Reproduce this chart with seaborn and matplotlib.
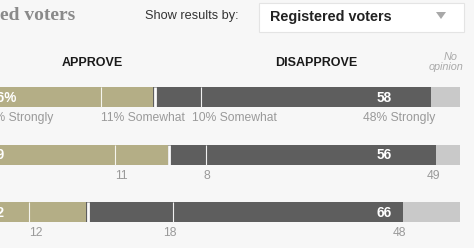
import matplotlib
matplotlib.use("Agg")
import matplotlib.pyplot as plt
import matplotlib.patches as mpatches
import seaborn as sns
import pandas as pd

# ---- data ----
questions = ["Question 1", "Question 2", "Question 3"]
approve_total = [36, 39, 22]
approve_strongly = [25, 28, 10]
approve_somewhat = [11, 11, 12]
disapprove_total = [58, 56, 66]
disapprove_somewhat = [10, 8, 18]
disapprove_strongly = [48, 49, 48]
no_opinion = [6, 5, 12]

approve_total_labels = ["36%", "39", "22"]
approve_strongly_labels = ["25% Strongly", "28", "10"]
approve_somewhat_labels = ["11% Somewhat", "11", "12"]
disapprove_somewhat_labels = ["10% Somewhat", "8", "18"]
disapprove_strongly_labels = ["48% Strongly", "49", "48"]
disapprove_total_labels = ["58", "56", "66"]

# ---- styling ----
BG = "#f7f7f7"
KHAKI = "#b4ae86"
DARK = "#5e5e5e"
LIGHT = "#c9c9c9"
SUB = "#9a9a9a"

W, H = 474, 248
sns.set_theme(style="white")
plt.rcParams["font.family"] = ["Liberation Sans", "DejaVu Sans"]

fig = plt.figure(figsize=(W / 100, H / 100), dpi=100, facecolor=BG)
ax = fig.add_axes([0, 0, 1, 1])
ax.set_facecolor(BG)

df = pd.DataFrame({
    "question": questions,
    "approve_total": approve_total,
    "approve_strongly": approve_strongly,
    "disapprove_total": disapprove_total,
    "disapprove_somewhat": disapprove_somewhat,
    "no_opinion": no_opinion,
})
df["c_strong"] = df["approve_strongly"]
df["c_approve"] = df["approve_total"]
df["c_dsome"] = df["approve_total"] + df["disapprove_somewhat"]
df["c_dis"] = df["approve_total"] + df["disapprove_total"]
df["c_all"] = df["c_dis"] + df["no_opinion"]

bw = 20 / 57.5
layers = [("c_all", LIGHT), ("c_dis", DARK), ("c_approve", KHAKI)]
for col, colr in layers:
    sns.barplot(data=df, x=col, y="question", orient="h", color=colr,
                saturation=1, width=bw, ax=ax, edgecolor="none", linewidth=0)

# dividers
for i in range(len(questions)):
    y0, y1 = i - bw / 2, i + bw / 2
    ax.vlines(df["c_strong"][i], y0, y1, colors="#f5f5ee", linewidth=0.8)
    ax.vlines(df["c_dsome"][i], y0, y1, colors="#f0f0f0", linewidth=0.8)
    ax.vlines(df["c_approve"][i] + 0.3, y0, y1, colors="#fafafa", linewidth=2.0)

ppx = 4.79  # px per percent
ax.set_xlim(19 / ppx, (W + 19) / ppx)
ax.set_ylim((H - 97) / 57.5, -97 / 57.5)
ax.set_xlabel("")
ax.set_ylabel("")
ax.set_xticks([])
ax.set_yticks([])
for s in ax.spines.values():
    s.set_visible(False)

ly = 21 / 57.5
FS = 8.7
for i in range(len(questions)):
    # totals inside bars
    ax.text(1.8, i + 0.01, approve_total_labels[i], color="white", fontsize=9.8,
            fontweight="bold", ha="left", va="center")
    ax.text(85.8, i + 0.01, disapprove_total_labels[i], color="white", fontsize=9.8,
            fontweight="bold", ha="right", va="center")
    # sub labels
    ax.text(0, i + ly, approve_strongly_labels[i], color=SUB, fontsize=FS,
            ha="left", va="center")
    ax.text(df["c_strong"][i], i + ly, approve_somewhat_labels[i], color=SUB,
            fontsize=FS, ha="left", va="center")
    if i == 0:
        ax.text(df["c_dsome"][i] - 1.9, i + ly, disapprove_somewhat_labels[i],
                color=SUB, fontsize=FS, ha="left", va="center")
    else:
        ax.text(df["c_dsome"][i] + 0.85, i + ly, disapprove_somewhat_labels[i],
                color=SUB, fontsize=FS, ha="right", va="center")
    ax.text(df["c_dis"][i] + 0.85, i + ly, disapprove_strongly_labels[i],
            color=SUB, fontsize=FS, ha="right", va="center")


def fx(px):
    return px / W


def fy(py):
    return 1 - py / H


# header
fig.text(fx(0), fy(16), "ed voters", color="#8a8a8a", fontsize=14,
         fontweight="bold", family=["Liberation Serif", "DejaVu Serif"],
         ha="left", va="center")
fig.text(fx(145), fy(16), "Show results by:", color="#333333", fontsize=9.2,
         ha="left", va="center")
box = mpatches.Rectangle((fx(259), fy(32)), fx(464) - fx(259), fy(3) - fy(32),
                         transform=fig.transFigure, facecolor="white",
                         edgecolor="#e4e4e4", linewidth=0.8)
fig.add_artist(box)
fig.text(fx(270), fy(16.5), "Registered voters", color="#222222", fontsize=10.4,
         fontweight="bold", ha="left", va="center")
tri = mpatches.Polygon([(fx(436), fy(12)), (fx(446), fy(12)), (fx(441), fy(19))],
                       closed=True, transform=fig.transFigure,
                       facecolor="#a8a8a8", edgecolor="none")
fig.add_artist(tri)

fig.text(fx(92), fy(63), "APPROVE", color="#1a1a1a", fontsize=9.0,
         fontweight="bold", ha="center", va="center")
fig.text(fx(316.5), fy(63), "DISAPPROVE", color="#1a1a1a", fontsize=9.0,
         fontweight="bold", ha="center", va="center")
fig.text(fx(451), fy(56.5), "No", color="#aaaaaa", fontsize=7.8,
         style="italic", ha="center", va="center")
fig.text(fx(446), fy(67), "opinion", color="#aaaaaa", fontsize=7.8,
         style="italic", ha="center", va="center")

fig.savefig("out.png", dpi=100, facecolor=BG)
